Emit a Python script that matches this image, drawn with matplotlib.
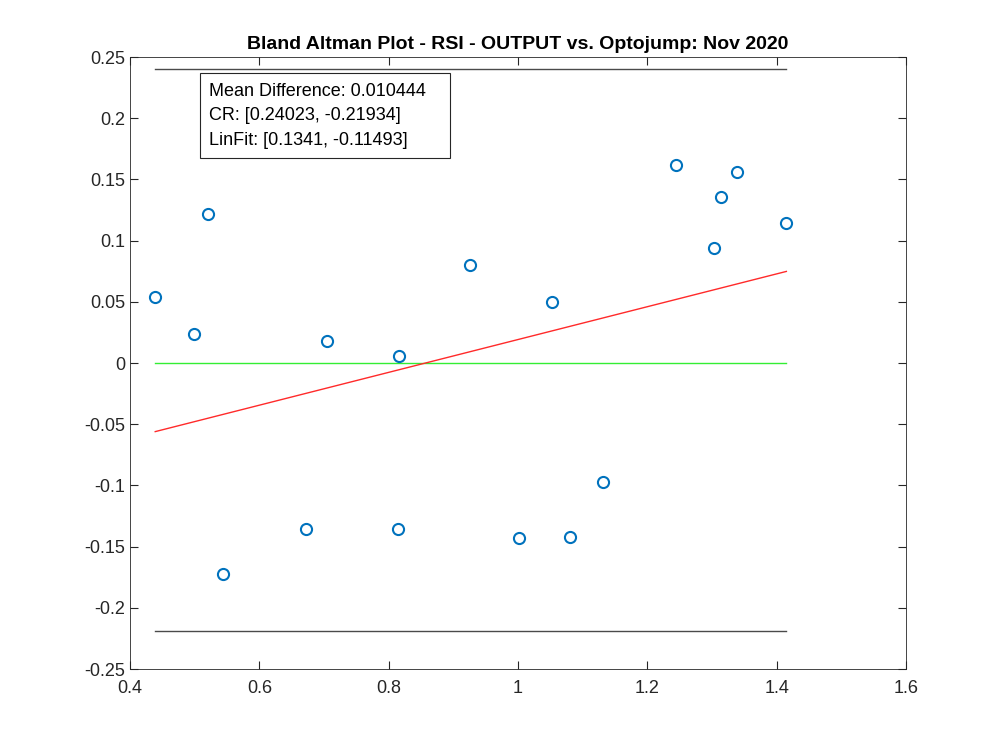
import numpy as np
import matplotlib
matplotlib.use("Agg")
import matplotlib.pyplot as plt
from matplotlib.patches import Rectangle

plt.rcParams['font.family'] = ['Liberation Sans', 'DejaVu Sans']

# mean of the two methods (x) and difference (y)
mean_vals = [0.439, 0.499, 0.521, 0.544, 0.672, 0.705, 0.814, 0.816, 0.926,
             1.001, 1.053, 1.080, 1.131, 1.244, 1.303, 1.314, 1.339, 1.415]
diff_vals = [0.054, 0.024, 0.122, -0.172, -0.136, 0.018, -0.136, 0.006, 0.080,
             -0.143, 0.050, -0.142, -0.097, 0.162, 0.094, 0.136, 0.156, 0.114]

mean_diff = 0.010444
cr = [0.24023, -0.21934]
linfit = [0.1341, -0.11493]

x = np.array(mean_vals)
y = np.array(diff_vals)
xmin, xmax = x.min(), x.max()

fig = plt.figure(figsize=(10, 7.5), dpi=100)
ax = fig.add_axes([0.13, 0.108, 0.776, 0.816])

ax.plot([xmin, xmax], [cr[0], cr[0]], color='#4a4a4a', lw=1)
ax.plot([xmin, xmax], [cr[1], cr[1]], color='#4a4a4a', lw=1)
ax.plot([xmin, xmax], [0, 0], color='#33ee33', lw=1)
xf = np.array([xmin, xmax])
ax.plot(xf, linfit[0] * xf + linfit[1], color='#ff2a2a', lw=1)
ax.plot(x, y, 'o', mfc='none', mec='#0072bd', mew=1.5, ms=8)

ax.set_xlim(0.4, 1.6)
ax.set_ylim(-0.25, 0.25)
ax.set_xticks([0.4, 0.6, 0.8, 1, 1.2, 1.4, 1.6])
ax.set_xticklabels(['0.4', '0.6', '0.8', '1', '1.2', '1.4', '1.6'])
ax.set_yticks(np.arange(-0.25, 0.26, 0.05))
ax.set_yticklabels(['-0.25', '-0.2', '-0.15', '-0.1', '-0.05', '0',
                    '0.05', '0.1', '0.15', '0.2', '0.25'])
ax.tick_params(direction='in', top=True, right=True, labelsize=13, length=6,
               color='#262626', labelcolor='#262626')
ax.tick_params(axis='x', pad=8)
for s in ax.spines.values():
    s.set_color('#262626')
    s.set_linewidth(0.6)

ax.set_title('Bland Altman Plot - RSI - OUTPUT vs. Optojump: Nov 2020',
             fontsize=14, fontweight='bold', pad=6)

# annotation box
ax.add_patch(Rectangle((0.0902, 0.835), 0.3222, 0.139, transform=ax.transAxes,
                       fc='white', ec='#262626', lw=0.8, zorder=5))
lines = ['Mean Difference: %g' % mean_diff,
         'CR: [%g, %g]' % (cr[0], cr[1]),
         'LinFit: [%g, %g]' % (linfit[0], linfit[1])]
for i, s in enumerate(lines):
    ax.text(0.1018, 0.9444 - i * 0.0408, s, transform=ax.transAxes,
            fontsize=13, va='center', ha='left', zorder=6)

fig.savefig('out.png')
